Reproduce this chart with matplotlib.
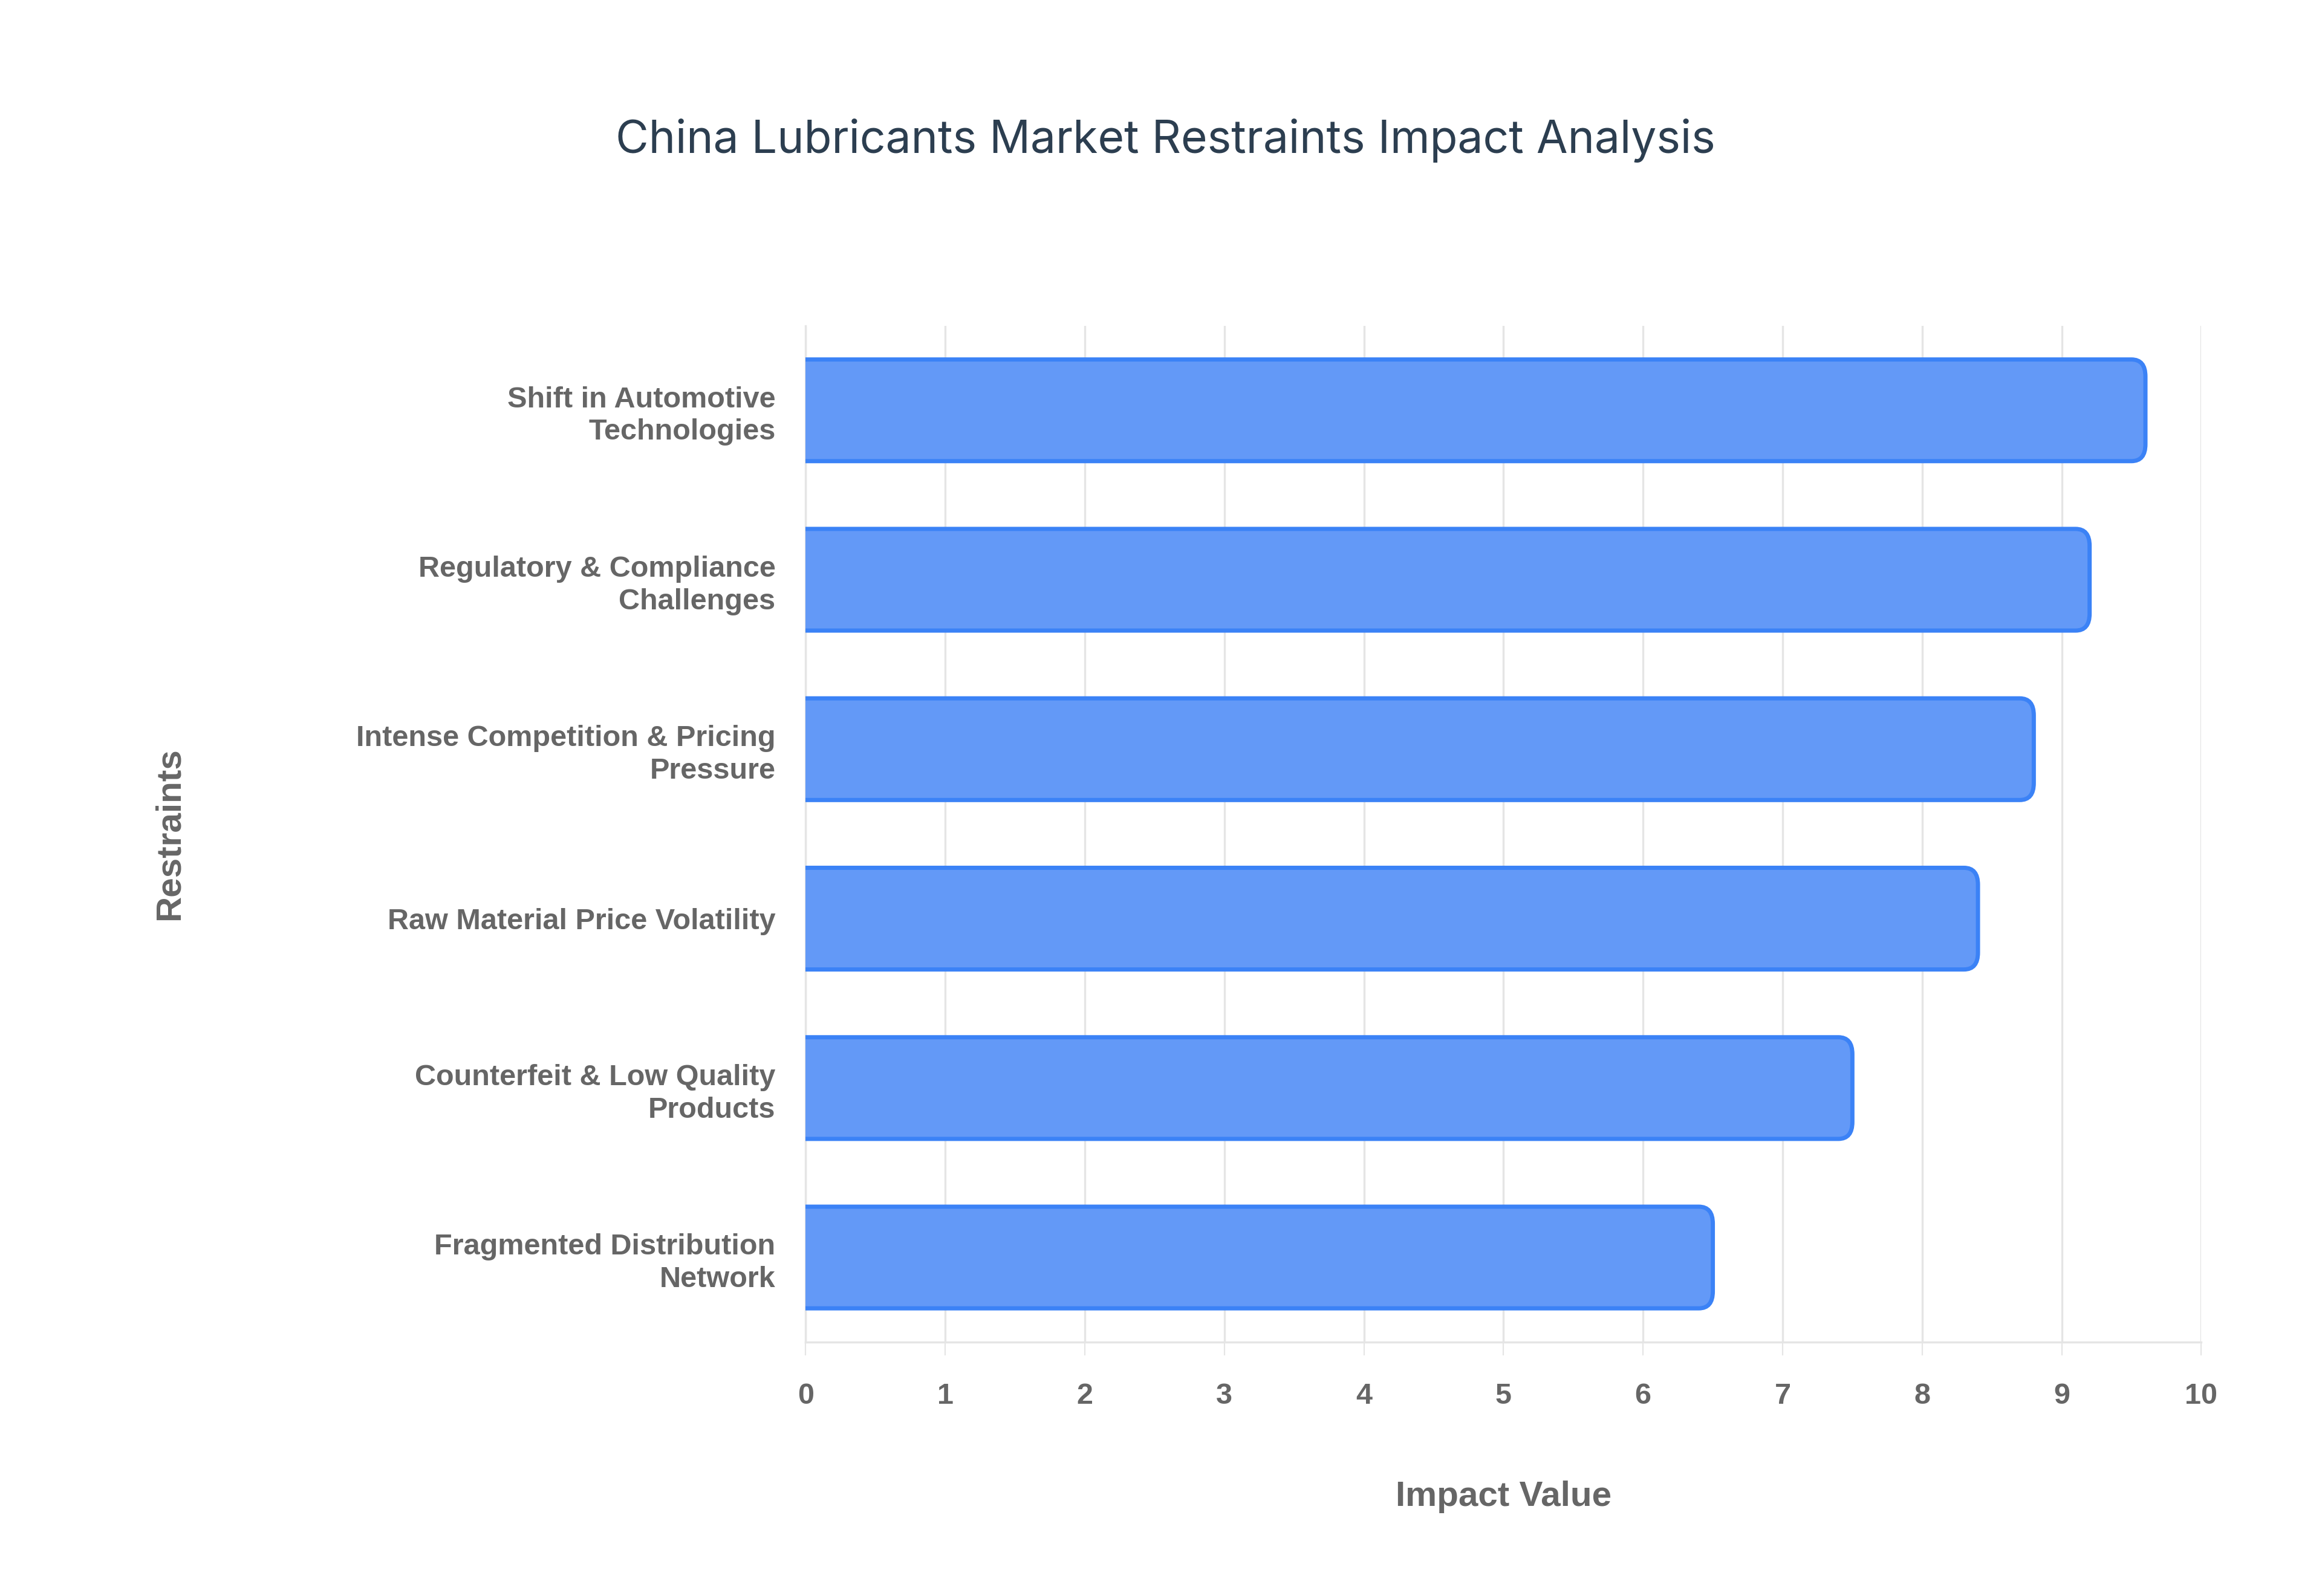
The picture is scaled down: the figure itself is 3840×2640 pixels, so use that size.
import matplotlib
matplotlib.use("Agg")
import matplotlib.pyplot as plt
from matplotlib.patches import FancyBboxPatch

categories = ["Shift in Automotive\nTechnologies", "Regulatory & Compliance\nChallenges",
              "Intense Competition & Pricing\nPressure", "Raw Material Price Volatility",
              "Counterfeit & Low Quality\nProducts", "Fragmented Distribution\nNetwork"]
values = [9.6, 9.2, 8.8, 8.4, 7.5, 6.5]

plt.rcParams['font.family'] = ['Liberation Sans', 'DejaVu Sans']
fig = plt.figure(figsize=(19.2, 13.2), dpi=200)
ax = fig.add_axes([0.347, 0.159, 0.601, 0.637])

n = len(categories)
ys = list(range(n))
bars = ax.barh(ys, values, height=0.6, color='#6399f7', edgecolor='#3b82f6', linewidth=2.5)
for b in bars:
    b.set_visible(False)
    x0, y0, w, h = b.get_x(), b.get_y(), b.get_width(), b.get_height()
    p = FancyBboxPatch((x0 - 0.3, y0), w + 0.3, h, boxstyle="round,pad=0,rounding_size=0.1",
                       facecolor='#6399f7', edgecolor='#3b82f6', linewidth=2.5,
                       clip_on=True, zorder=3)
    ax.add_patch(p)
    p.set_clip_path(ax.patch)

ax.set_xlim(0, 10)
ax.set_ylim(n - 0.5, -0.5)
ax.set_yticks(ys)
ax.set_yticklabels(categories, fontsize=17.5, fontweight='bold', color='#666666', linespacing=1.25)
ax.set_xticks(range(11))
ax.set_xticklabels([str(i) for i in range(11)], fontsize=17.5, fontweight='bold', color='#666666')
ax.tick_params(axis='y', length=0, pad=18)
ax.tick_params(axis='x', length=8, color='#e5e5e5', pad=16)
ax.grid(axis='x', color='#e5e5e5', linewidth=1.2, zorder=0)
ax.set_axisbelow(True)
for s in ['top', 'right']:
    ax.spines[s].set_visible(False)
for s in ['left', 'bottom']:
    ax.spines[s].set_color('#e5e5e5')
    ax.spines[s].set_linewidth(1.2)

ax.set_xlabel("Impact Value", fontsize=21, fontweight='bold', color='#666666', labelpad=42)
ax.set_ylabel("Restraints", fontsize=21, fontweight='bold', color='#666666')
ax.yaxis.set_label_coords(-0.444, 0.5)

fig.text(0.502, 0.912, "China Lubricants Market Restraints Impact Analysis", ha='center', va='center',
         fontsize=27, color='#2c3e50', family=['Inter', 'DejaVu Sans'])

fig.savefig("out.png", dpi=200)
